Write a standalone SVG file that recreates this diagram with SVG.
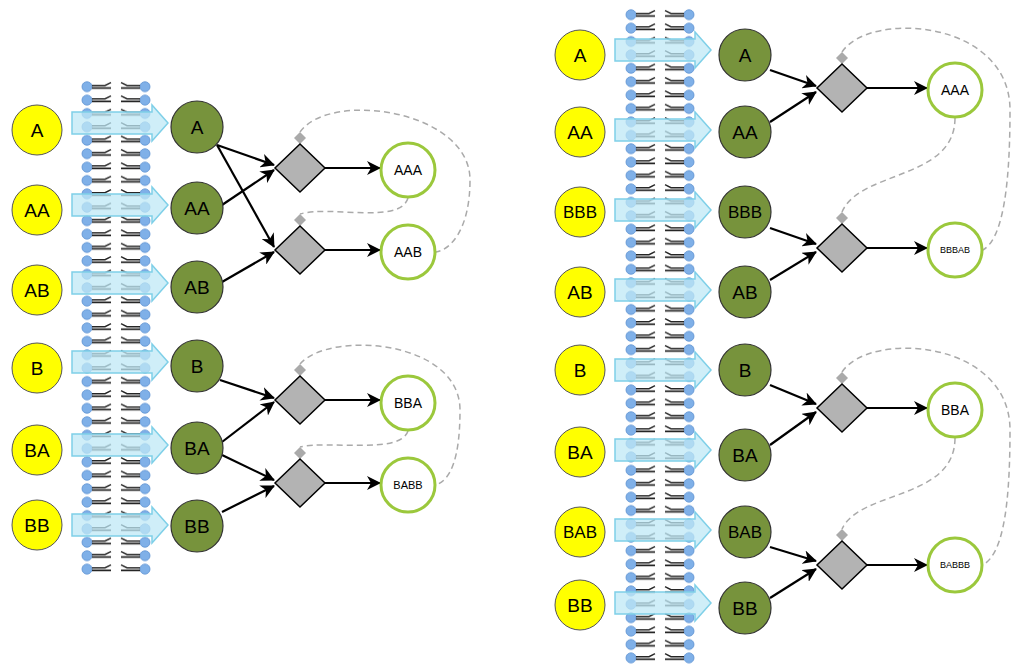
<svg xmlns="http://www.w3.org/2000/svg" width="1024" height="671" viewBox="0 0 1024 671">
<defs>
<g id="lrow">
<circle cx="6" cy="6.7" r="5" fill="#7fb0e8" stroke="#5a8fd0" stroke-width="0.8"/>
<circle cx="64" cy="6.7" r="5" fill="#7fb0e8" stroke="#5a8fd0" stroke-width="0.8"/>
<path d="M11 5.5H24l6-3M11 8H30M40 2.5l6 3H59M40 8H59" stroke="#222" stroke-width="1.5" fill="none"/>
</g>
<pattern id="lipL" x="81" y="80" width="70" height="13.4" patternUnits="userSpaceOnUse"><use href="#lrow"/></pattern>
<pattern id="lipR" x="625" y="8" width="70" height="13.4" patternUnits="userSpaceOnUse"><use href="#lrow"/></pattern>
<marker id="ah" markerWidth="14" markerHeight="14" refX="13" refY="7" orient="auto" markerUnits="userSpaceOnUse" viewBox="0 0 14 14">
<path d="M0 0L14 7L0 14L4 7Z" fill="#000"/>
</marker>
<g id="tr"><path d="M0 -11H80V-18L96 0L80 18V11H0Z" fill="#bfe8f5" fill-opacity="0.75" stroke="#7fd0e8" stroke-width="1.5"/></g>
<g id="dia"><path d="M-6 -30L0 -36L6 -30L0 -24Z" fill="#aaa"/><path d="M0 -24L25 0L0 24L-25 0Z" fill="#b3b3b3" stroke="#000" stroke-width="1.5"/></g>
</defs>
<style>
.y{fill:#ffff00;stroke:#555;stroke-width:1}
.g{fill:#77933c;stroke:#333;stroke-width:1.2}
.p{fill:#fff;stroke:#9bc83c;stroke-width:3}
.t{font-family:"Liberation Sans",Arial,sans-serif;text-anchor:middle;dominant-baseline:central;fill:#000}
.c{stroke:#000;stroke-width:2.2;fill:none;marker-end:url(#ah)}
.d{stroke:#aaa;stroke-width:1.5;stroke-dasharray:6 4;fill:none}
</style>
<rect width="1024" height="671" fill="#fff"/>
<g id="membranes">
<rect x="81" y="80" width="70" height="496" fill="url(#lipL)"/>
<rect x="625" y="8" width="70" height="656" fill="url(#lipR)"/>
</g>
<g id="connectors">
<path class="d" d="M300 132C330 90 470 110 470 180C470 230 450 250 436 252"/>
<path class="d" d="M408 198C400 225 330 205 300 214"/>
<path class="d" d="M300 364C330 330 460 340 460 410C460 460 450 480 436 485"/>
<path class="d" d="M408 431C400 455 330 440 300 447"/>
<path class="d" d="M842 52C870 10 1010 20 1010 110C1010 200 1000 240 983 250"/>
<path class="d" d="M955 118C955 180 860 170 842 212"/>
<path class="d" d="M842 372C870 330 1010 340 1010 430C1010 520 1000 555 983 565"/>
<path class="d" d="M955 438C955 500 860 490 842 529"/>
<path class="c" d="M217 145L274 165"/>
<path class="c" d="M217 145L274 247"/>
<path class="c" d="M222 205L274 170"/>
<path class="c" d="M222 282L274 252"/>
<path class="c" d="M325 168H380"/>
<path class="c" d="M325 250H380"/>
<path class="c" d="M220 380L274 398"/>
<path class="c" d="M222 442L274 402"/>
<path class="c" d="M222 455L274 480"/>
<path class="c" d="M222 512L274 486"/>
<path class="c" d="M325 400H380"/>
<path class="c" d="M325 483H380"/>
<path class="c" d="M770 70L816 86"/>
<path class="c" d="M770 122L816 92"/>
<path class="c" d="M770 228L816 244"/>
<path class="c" d="M770 280L816 252"/>
<path class="c" d="M770 385L816 404"/>
<path class="c" d="M770 445L816 412"/>
<path class="c" d="M770 547L816 561"/>
<path class="c" d="M770 598L816 569"/>
<path class="c" d="M867 88H927"/>
<path class="c" d="M867 248H927"/>
<path class="c" d="M867 408H927"/>
<path class="c" d="M867 565H927"/>
</g>
<g id="left-inputs">
<g id="yA"><circle class="y" cx="37" cy="130" r="25"/><text class="t" x="37" y="130" font-size="19">A</text></g>
<g id="yAA"><circle class="y" cx="37" cy="210" r="25"/><text class="t" x="37" y="210" font-size="19">AA</text></g>
<g id="yAB"><circle class="y" cx="37" cy="290" r="25"/><text class="t" x="37" y="290" font-size="19">AB</text></g>
<g id="yB"><circle class="y" cx="37" cy="368" r="25"/><text class="t" x="37" y="368" font-size="19">B</text></g>
<g id="yBA"><circle class="y" cx="37" cy="450" r="25"/><text class="t" x="37" y="450" font-size="19">BA</text></g>
<g id="yBB"><circle class="y" cx="37" cy="525" r="25"/><text class="t" x="37" y="525" font-size="19">BB</text></g>
</g>
<g id="left-transport">
<use href="#tr" x="72" y="123"/><use href="#tr" x="72" y="205"/><use href="#tr" x="72" y="283"/>
<use href="#tr" x="72" y="362"/><use href="#tr" x="72" y="445"/><use href="#tr" x="72" y="525"/>
</g>
<g id="left-inner">
<g id="gA"><circle class="g" cx="197" cy="127" r="26"/><text class="t" x="197" y="127" font-size="19">A</text></g>
<g id="gAA"><circle class="g" cx="197" cy="208" r="26"/><text class="t" x="197" y="208" font-size="19">AA</text></g>
<g id="gAB"><circle class="g" cx="197" cy="287" r="26"/><text class="t" x="197" y="287" font-size="19">AB</text></g>
<g id="gB"><circle class="g" cx="197" cy="366" r="26"/><text class="t" x="197" y="366" font-size="19">B</text></g>
<g id="gBA"><circle class="g" cx="197" cy="448" r="26"/><text class="t" x="197" y="448" font-size="19">BA</text></g>
<g id="gBB"><circle class="g" cx="197" cy="526" r="26"/><text class="t" x="197" y="526" font-size="19">BB</text></g>
</g>
<g id="left-reactions">
<use href="#dia" x="300" y="168"/><use href="#dia" x="300" y="250"/>
<use href="#dia" x="300" y="400"/><use href="#dia" x="300" y="483"/>
</g>
<g id="left-products">
<g id="pAAA"><circle class="p" cx="408" cy="170" r="27"/><text class="t" x="408" y="170" font-size="14">AAA</text></g>
<g id="pAAB"><circle class="p" cx="408" cy="252" r="27"/><text class="t" x="408" y="252" font-size="14">AAB</text></g>
<g id="pBBA"><circle class="p" cx="408" cy="403" r="27"/><text class="t" x="408" y="403" font-size="14">BBA</text></g>
<g id="pBABB"><circle class="p" cx="408" cy="485" r="27"/><text class="t" x="408" y="485" font-size="11">BABB</text></g>
</g>
<g id="right-inputs">
<g id="rA"><circle class="y" cx="580" cy="55" r="25"/><text class="t" x="580" y="55" font-size="19">A</text></g>
<g id="rAA"><circle class="y" cx="580" cy="132" r="25"/><text class="t" x="580" y="132" font-size="19">AA</text></g>
<g id="rBBB"><circle class="y" cx="580" cy="212" r="25"/><text class="t" x="580" y="212" font-size="17">BBB</text></g>
<g id="rAB"><circle class="y" cx="580" cy="292" r="25"/><text class="t" x="580" y="292" font-size="19">AB</text></g>
<g id="rB"><circle class="y" cx="580" cy="370" r="25"/><text class="t" x="580" y="370" font-size="19">B</text></g>
<g id="rBA"><circle class="y" cx="580" cy="452" r="25"/><text class="t" x="580" y="452" font-size="19">BA</text></g>
<g id="rBAB"><circle class="y" cx="580" cy="532" r="25"/><text class="t" x="580" y="532" font-size="17">BAB</text></g>
<g id="rBB"><circle class="y" cx="580" cy="605" r="25"/><text class="t" x="580" y="605" font-size="19">BB</text></g>
</g>
<g id="right-transport">
<use href="#tr" x="615" y="50"/><use href="#tr" x="615" y="130"/><use href="#tr" x="615" y="210"/><use href="#tr" x="615" y="290"/>
<use href="#tr" x="615" y="370"/><use href="#tr" x="615" y="450"/><use href="#tr" x="615" y="530"/><use href="#tr" x="615" y="603"/>
</g>
<g id="right-inner">
<g id="sA"><circle class="g" cx="745" cy="55" r="26"/><text class="t" x="745" y="55" font-size="19">A</text></g>
<g id="sAA"><circle class="g" cx="745" cy="132" r="26"/><text class="t" x="745" y="132" font-size="19">AA</text></g>
<g id="sBBB"><circle class="g" cx="745" cy="212" r="26"/><text class="t" x="745" y="212" font-size="17">BBB</text></g>
<g id="sAB"><circle class="g" cx="745" cy="292" r="26"/><text class="t" x="745" y="292" font-size="19">AB</text></g>
<g id="sB"><circle class="g" cx="745" cy="370" r="26"/><text class="t" x="745" y="370" font-size="19">B</text></g>
<g id="sBA"><circle class="g" cx="745" cy="455" r="26"/><text class="t" x="745" y="455" font-size="19">BA</text></g>
<g id="sBAB"><circle class="g" cx="745" cy="532" r="26"/><text class="t" x="745" y="532" font-size="17">BAB</text></g>
<g id="sBB"><circle class="g" cx="745" cy="608" r="26"/><text class="t" x="745" y="608" font-size="19">BB</text></g>
</g>
<g id="right-reactions">
<use href="#dia" x="842" y="88"/><use href="#dia" x="842" y="248"/>
<use href="#dia" x="842" y="408"/><use href="#dia" x="842" y="565"/>
</g>
<g id="right-products">
<g id="qAAA"><circle class="p" cx="955" cy="90" r="27"/><text class="t" x="955" y="90" font-size="14">AAA</text></g>
<g id="qBBBAB"><circle class="p" cx="955" cy="250" r="27"/><text class="t" x="955" y="250" font-size="9">BBBAB</text></g>
<g id="qBBA"><circle class="p" cx="955" cy="410" r="27"/><text class="t" x="955" y="410" font-size="14">BBA</text></g>
<g id="qBABBB"><circle class="p" cx="955" cy="565" r="27"/><text class="t" x="955" y="565" font-size="9">BABBB</text></g>
</g>
</svg>
